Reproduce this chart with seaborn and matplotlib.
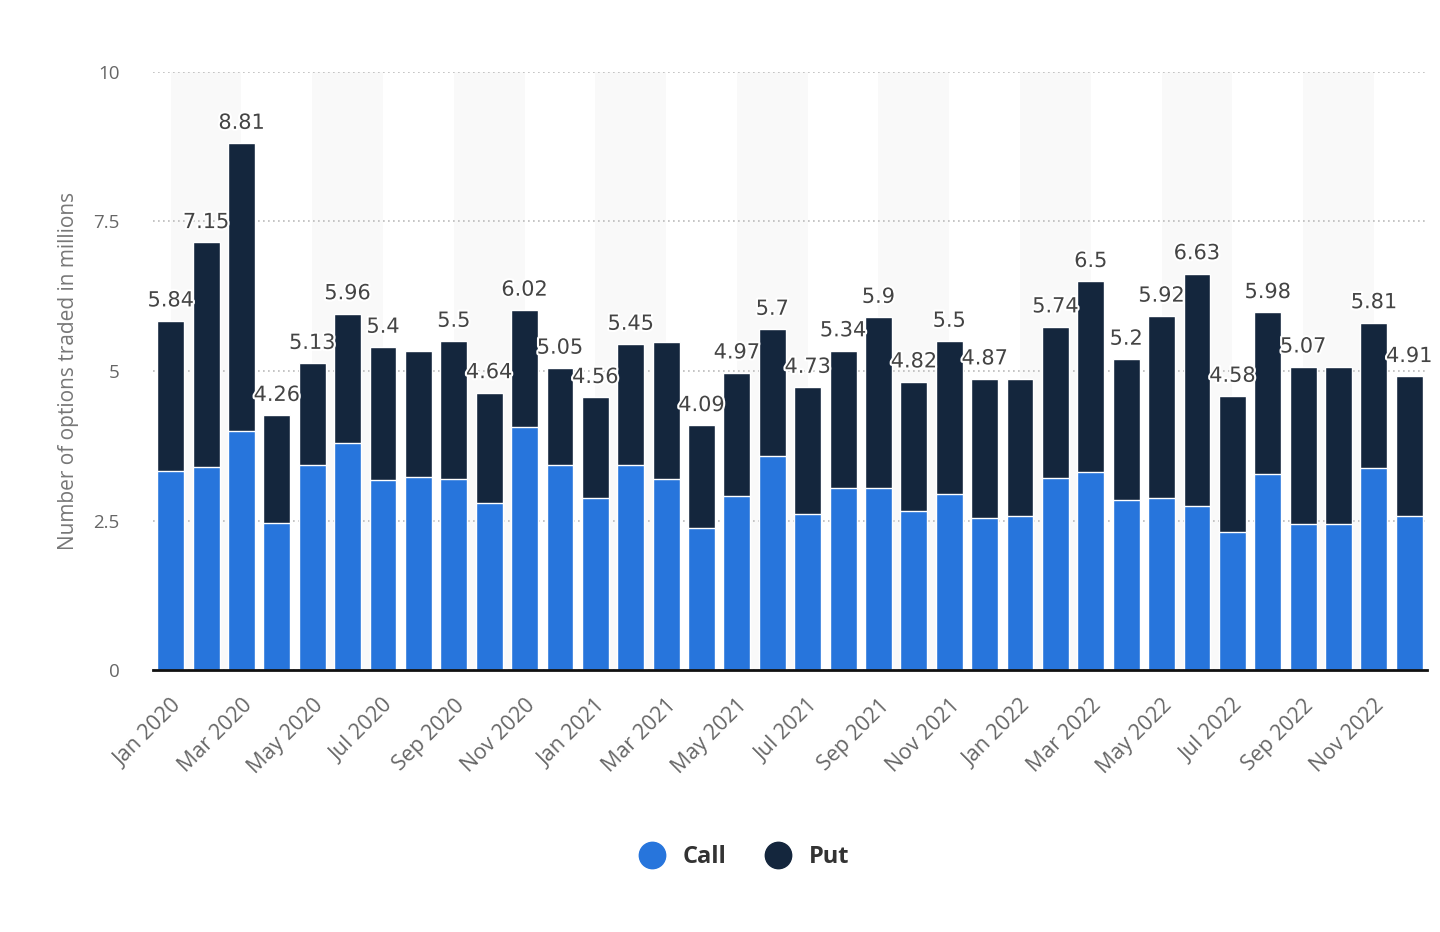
import numpy as np
import pandas as pd
import matplotlib
matplotlib.use("Agg")
import matplotlib.pyplot as plt
import matplotlib.patheffects as pe
from matplotlib.lines import Line2D
import seaborn as sns

sns.set_theme(style="white")
plt.rcParams['font.family'] = ['Open Sans', 'DejaVu Sans']

# data (millions of options traded)
months = [f"{m} {y}" for y in (2020, 2021, 2022)
          for m in ["Jan", "Feb", "Mar", "Apr", "May", "Jun",
                    "Jul", "Aug", "Sep", "Oct", "Nov", "Dec"]]
call = [3.33, 3.40, 4.00, 2.46, 3.43, 3.80, 3.17, 3.23, 3.20, 2.80, 4.06, 3.43,
        2.87, 3.43, 3.20, 2.37, 2.91, 3.58, 2.61, 3.04, 3.04, 2.66, 2.94, 2.54,
        2.57, 3.21, 3.31, 2.84, 2.87, 2.74, 2.30, 3.28, 2.44, 2.44, 3.38, 2.57]
put = [2.51, 3.75, 4.81, 1.80, 1.70, 2.16, 2.23, 2.11, 2.30, 1.84, 1.96, 1.62,
       1.69, 2.02, 2.28, 1.72, 2.06, 2.12, 2.12, 2.30, 2.86, 2.16, 2.56, 2.33,
       2.30, 2.53, 3.19, 2.36, 3.05, 3.89, 2.28, 2.70, 2.63, 2.63, 2.43, 2.34]
# totals without a label in the chart (hidden by overlap)
hidden_labels = ["Aug 2020", "Mar 2021", "Jan 2022", "Oct 2022"]

df = pd.DataFrame({"month": months, "Call": call, "Put": put})
df["total"] = (df["Call"] + df["Put"]).round(2)

call_color = "#2775dc"
put_color = "#14263d"

fig = plt.figure(figsize=(14.4, 9.32), dpi=100)
ax = fig.add_axes([153/1440, 1-670/932, (1427-153)/1440, (670-72)/932])

# alternating background bands
for i in range(0, 36, 4):
    ax.axvspan(i, i + 2, color="#f9f9f9", zorder=0, lw=0)

sns.barplot(data=df, x="month", y="total", color=put_color, saturation=1,
            width=0.76, edgecolor="white", linewidth=1, ax=ax, zorder=3)
sns.barplot(data=df, x="month", y="Call", color=call_color, saturation=1,
            width=0.76, edgecolor="white", linewidth=1, ax=ax, zorder=4)

for i, row in df.iterrows():
    if row["month"] in hidden_labels:
        continue
    ax.text(i, row["total"] + 0.24, f"{row['total']:g}", ha="center",
            va="baseline", fontsize=15, color="#444444", family="DejaVu Sans",
            zorder=6, path_effects=[pe.withStroke(linewidth=3, foreground="white")])

ax.set_xlim(-0.5, 35.5)
ax.set_ylim(0, 10)
ax.set_yticks([0, 2.5, 5, 7.5, 10])
ax.set_yticklabels(["0", "2.5", "5", "7.5", "10"], color="#666666", fontsize=13.5)
ax.tick_params(axis="y", length=0, pad=24)
ax.yaxis.grid(True, linestyle=(0, (1, 2)), color="#bbbbbb", linewidth=1.2, zorder=1)
ax.set_axisbelow(True)

ax.set_xticks(range(0, 36, 2))
ax.set_xticklabels(months[::2], rotation=45, ha="right", rotation_mode="anchor",
                   color="#666666", fontsize=15.5)
ax.tick_params(axis="x", length=0, pad=18)

ax.set_xlabel("")
ax.set_ylabel("Number of options traded in millions", color="#777777", fontsize=15, labelpad=10)

for s in ["left", "right", "top"]:
    ax.spines[s].set_visible(False)
ax.spines["bottom"].set_color("#111111")
ax.spines["bottom"].set_linewidth(2)
ax.spines["bottom"].set_zorder(7)

handles = [Line2D([], [], marker="o", ls="", markersize=19, color=call_color),
           Line2D([], [], marker="o", ls="", markersize=19, color=put_color)]
fig.legend(handles, ["Call", "Put"], loc="center", bbox_to_anchor=(0.513, 1-857/932),
           ncol=2, frameon=False, prop={"weight": "bold", "size": 17},
           labelcolor="#333333", handletextpad=0.3, columnspacing=1.2)

fig.savefig("out.png", dpi=100)
